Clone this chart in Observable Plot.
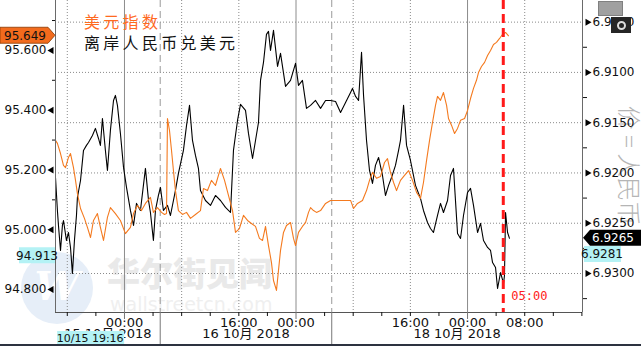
<!DOCTYPE html>
<html><head><meta charset="utf-8">
<script src="https://cdn.jsdelivr.net/npm/d3@7"></script>
<script src="https://cdn.jsdelivr.net/npm/@observablehq/plot@0.6"></script>
<style>
body{margin:0;background:#fff;}
#wrap{position:relative;width:641px;height:346px;overflow:hidden;font-family:"DejaVu Sans","Noto Sans CJK SC",sans-serif;}
.abs{position:absolute;}
#chart{position:absolute;left:0;top:0;z-index:2;}
.fg{z-index:3;}
</style></head><body>
<div id="wrap">
  <div class="abs" style="left:21px;top:252px;width:72px;height:72px;border-radius:50%;background:#e6eef8;z-index:0"></div>
  <div class="abs" style="left:21px;top:262px;width:72px;text-align:center;font:bold italic 40px 'DejaVu Serif';color:#fff;z-index:0">W</div>
  <div class="abs" style="left:107px;top:250px;font:900 33px 'Noto Sans CJK SC';line-height:44px;color:#e9e9e9;z-index:0;white-space:nowrap">华尔街见闻</div>
  <div class="abs" style="left:110px;top:294px;font:19px 'DejaVu Sans';line-height:20px;color:#efefef;z-index:0;white-space:nowrap">wallstreetcn.com</div>
  <div class="abs" style="left:562px;top:148px;width:136px;text-align:center;transform:rotate(90deg);font:300 24px 'Noto Sans CJK SC';color:#b5b5b5;z-index:0;white-space:nowrap">价 = 人民币</div>
  <div id="chart"></div>
  <div class="abs fg" style="left:84px;top:11px;font:16px 'Noto Sans CJK SC';letter-spacing:3.3px;color:#ff6a1f;line-height:20px;white-space:nowrap">美元指数</div>
  <div class="abs fg" style="left:84px;top:32px;font:16px 'Noto Sans CJK SC';letter-spacing:3.3px;color:#111;line-height:20px;white-space:nowrap">离岸人民币兑美元</div>
  <div class="abs fg" style="left:598px;top:1px;width:23px;height:13px;background:#a0a0a0;border:1px solid #808080"></div>
  <div class="abs fg" style="left:611px;top:17px;width:20px;height:16px;background:#262626"></div>
  <div class="abs fg" style="left:617px;top:21px;width:5px;height:5px;border:2px solid #ddd;border-radius:50%"></div>
  <div class="abs fg" style="left:0;top:344px;width:641px;height:2px;background:#2d3340"></div>
</div>
<script>
// US dollar index (left axis)
const usdTime = ["15 14:21","15 14:37","15 15:03","15 15:28","15 15:45","15 16:10","15 16:27","15 16:52","15 17:09","15 17:25","15 17:51","15 18:24","15 18:49","15 19:15","15 19:40","15 20:13","15 20:38","15 21:04","15 21:37","15 22:02","15 22:44","15 23:26","16 00:08","16 00:50","16 01:16","16 01:49","16 02:23","16 02:56","16 03:38","16 04:03","16 04:37","16 05:11","16 05:36","16 05:53","16 06:01","16 06:18","16 06:35","16 06:51","16 07:08","16 07:33","16 08:07","16 08:41","16 09:14","16 09:56","16 10:38","16 11:03","16 11:37","16 12:10","16 12:44","16 13:26","16 14:00","16 14:33","16 15:07","16 15:32","16 16:05","16 16:39","16 17:13","16 17:46","16 18:20","16 18:53","16 19:19","16 19:44","16 20:09","16 20:34","16 20:51","16 21:16","16 21:33","16 21:50","16 22:15","16 22:40","16 23:14","16 23:39","16 23:56","17 00:21","17 00:54","17 01:20","17 01:45","17 02:02","17 02:27","17 02:52","17 03:26","17 04:08","17 04:50","17 06:14","17 07:38","17 08:03","17 08:36","17 09:18","17 09:52","17 10:17","17 10:42","17 11:16","17 11:49","17 12:23","17 12:48","17 13:13","17 13:39","17 14:04","17 14:37","17 15:11","17 15:45","17 16:18","17 16:52","17 17:25","17 17:50","17 18:16","17 18:41","17 19:06","17 19:31","17 19:48","17 20:13","17 20:38","17 21:04","17 21:20","17 21:46","17 22:11","17 22:36","17 23:01","17 23:35","18 00:00","18 00:25","18 00:50","18 01:15","18 01:32","18 01:57","18 02:23","18 02:48","18 03:13","18 03:38","18 04:03","18 04:29","18 04:54","18 05:19","18 05:44"];
const usdValue = [95.299,95.289,95.255,95.215,95.208,95.242,95.255,95.208,95.165,95.121,95.071,95.038,95.008,94.974,95.031,95.054,95.008,94.964,95.041,95.074,95.054,95.031,94.987,95.008,95.054,95.081,95.064,95.088,95.108,95.058,95.074,95.058,95.051,95.054,95.372,95.332,95.265,95.198,95.131,95.064,95.051,95.058,95.038,95.051,95.064,95.138,95.131,95.165,95.148,95.205,95.165,95.115,95.064,94.991,95.004,95.048,95.031,95.021,95.011,94.971,94.964,95.011,94.947,94.890,94.830,94.797,94.864,94.931,94.991,95.014,95.024,94.971,94.947,94.991,95.011,95.024,95.058,95.074,95.064,95.058,95.064,95.088,95.098,95.098,95.098,95.071,95.088,95.098,95.131,95.165,95.192,95.172,95.178,95.225,95.238,95.192,95.158,95.131,95.165,95.182,95.198,95.165,95.125,95.105,95.158,95.232,95.299,95.359,95.416,95.446,95.433,95.459,95.416,95.372,95.349,95.322,95.339,95.366,95.372,95.399,95.439,95.473,95.500,95.526,95.546,95.560,95.583,95.600,95.620,95.627,95.640,95.654,95.660,95.649];
// Offshore yuan per dollar (right axis, inverted)
const cnhTime = ["15 14:21","15 14:37","15 14:46","15 15:03","15 15:19","15 15:28","15 15:53","15 16:10","15 16:27","15 16:43","15 17:00","15 17:17","15 17:25","15 17:51","15 18:16","15 18:41","15 18:58","15 19:31","15 19:56","15 20:22","15 20:38","15 20:55","15 21:20","15 21:37","15 22:02","15 22:28","15 22:44","15 23:01","15 23:26","15 23:52","16 00:17","16 00:50","16 01:16","16 01:41","16 02:14","16 02:56","16 03:22","16 03:38","16 04:03","16 04:20","16 04:45","16 05:02","16 05:27","16 06:01","16 06:26","16 07:08","16 07:33","16 08:15","16 08:41","16 09:06","16 09:31","16 09:56","16 10:21","16 10:38","16 11:20","16 12:02","16 12:44","16 13:26","16 14:08","16 14:50","16 15:15","16 15:49","16 16:14","16 16:56","16 17:21","16 17:55","16 18:20","16 18:45","16 19:02","16 19:27","16 19:52","16 20:09","16 20:26","16 20:51","16 21:25","16 21:50","16 22:32","16 23:14","16 23:56","17 00:21","17 00:54","17 01:28","17 02:02","17 02:44","17 03:26","17 04:08","17 04:50","17 05:32","17 06:14","17 06:56","17 07:38","17 07:54","17 08:20","17 08:45","17 09:10","17 09:27","17 09:52","17 10:17","17 10:42","17 11:07","17 11:33","17 12:06","17 12:31","17 12:57","17 13:22","17 13:55","17 14:21","17 14:37","17 15:03","17 15:28","17 16:01","17 16:43","17 17:25","17 17:50","17 18:24","17 18:49","17 19:14","17 19:48","17 20:13","17 20:38","17 21:12","17 21:37","17 22:02","17 22:36","17 23:01","17 23:26","18 00:00","18 00:25","18 00:50","18 01:24","18 01:49","18 02:14","18 02:48","18 03:13","18 03:30","18 03:55","18 04:12","18 04:37","18 05:02","18 05:10","18 05:19","18 05:36","18 05:52"];
const cnhValue = [6.92045,6.92373,6.92522,6.92771,6.92522,6.92473,6.92672,6.92592,6.92741,6.93000,6.92672,6.92423,6.92244,6.92075,6.91776,6.91726,6.91697,6.91627,6.91557,6.91657,6.91726,6.91458,6.91776,6.91975,6.91577,6.91279,6.91229,6.91328,6.91607,6.91945,6.92144,6.92373,6.92522,6.92303,6.92373,6.91955,6.92274,6.92393,6.92672,6.92373,6.92224,6.92144,6.92373,6.92323,6.92423,6.92174,6.92005,6.91776,6.91527,6.91328,6.91677,6.91826,6.91955,6.92174,6.92274,6.92323,6.92224,6.92274,6.92343,6.92393,6.91776,6.91478,6.91318,6.91378,6.91607,6.91856,6.91677,6.91498,6.91080,6.90901,6.90622,6.90592,6.90781,6.90582,6.90940,6.90811,6.91139,6.91080,6.90910,6.91129,6.91080,6.91358,6.91328,6.91279,6.91358,6.91279,6.91279,6.91289,6.91398,6.91299,6.91199,6.91159,6.91239,6.91279,6.90801,6.91229,6.91677,6.91975,6.92104,6.91925,6.91846,6.92025,6.92224,6.92124,6.92045,6.91925,6.91776,6.91677,6.91328,6.91726,6.91876,6.92124,6.92254,6.92373,6.92493,6.92552,6.92592,6.92423,6.92303,6.92393,6.92274,6.92025,6.91955,6.92602,6.92652,6.92423,6.92194,6.92154,6.92323,6.92592,6.92502,6.92672,6.92741,6.92771,6.92891,6.92940,6.93149,6.92990,6.93099,6.93020,6.92393,6.92592,6.92650];

const leftTicks = [94.8, 95.0, 95.2, 95.4, 95.6];
const leftMinor = [94.9, 95.1, 95.3, 95.5, 95.7];
const cnhTicks = [6.905, 6.910, 6.915, 6.920, 6.925, 6.930];
const cnhMinor = [6.9075, 6.9125, 6.9175, 6.9225, 6.9275, 6.9325];
const timeLabelTicks = ["16 00:00","16 16:00","17 00:00","17 16:00","18 00:00","18 08:00"];
const fourHourTicks = ["15 16:00","15 20:00","16 04:00","16 08:00","16 12:00","16 16:00","16 20:00","17 04:00","17 08:00","17 12:00","17 16:00","17 20:00","18 04:00","18 08:00","18 12:00","18 16:00"];
const midnights = ["16 00:00","17 00:00","18 00:00"];
const eightHourGrid = ["15 16:00","16 08:00","16 16:00","17 08:00","17 16:00","18 08:00"];
const sessionBreaks = ["16 05:00","17 05:00"];
const dateLabels = ["15 10月 2018","16 10月 2018","18 10月 2018"];
const eventTime = "18 05:00";
const eventLabel = "05:00";
const viewStart = "15 14:21", viewEnd = "18 16:05";
const lastUsd = 95.649, lastCnh = 6.9265;
const crossUsd = 94.913, crossCnh = 6.9281, crossTime = "15 19:16", crossTimeLabel = "10/15 19:16";

const P = s => new Date(`2018-10-${s.slice(0,2)}T${s.slice(3)}:00Z`);
const yDomain = [94.723, 95.767];
// right axis (inverted) mapped onto the left scale
const cnhToUsd = d3.scaleLinear([6.91, 6.93], [95.5264, 94.8535]);
const usd = usdTime.map((t, i) => ({t: P(t), v: usdValue[i]}));
const cnh = cnhTime.map((t, i) => ({t: P(t), v: cnhToUsd(cnhValue[i])}));
const xDomain = [P(viewStart), P(viewEnd)];
const bounds = [xDomain[0], ...sessionBreaks.map(P), xDomain[1]];
const mids = dateLabels.map((d, i) => new Date((+bounds[i] + +bounds[i + 1]) / 2));
const blank = () => "";
const dotted = {stroke: "#8a8a8a", strokeDasharray: "1,2"};

const plot = Plot.plot({
  width: 641, height: 346,
  marginLeft: 55, marginRight: 59, marginTop: 0, marginBottom: 34,
  style: {background: "transparent", fontFamily: "DejaVu Sans, Noto Sans CJK SC, sans-serif", fontSize: "12px", color: "#111", overflow: "visible"},
  x: {type: "utc", domain: xDomain, axis: null, label: null},
  y: {domain: yDomain, axis: null, label: null},
  marks: [
    Plot.ruleY(cnhTicks.map(cnhToUsd), dotted),
    Plot.ruleX(eightHourGrid.map(P), dotted),
    Plot.ruleX(midnights.map(P), {stroke: "#8c8c8c"}),
    Plot.ruleX(sessionBreaks.map(P), {stroke: "#9a9a9a", strokeDasharray: "7,4"}),
    Plot.line(cnh, {x: "t", y: "v", stroke: "#000", strokeWidth: 1.1}),
    Plot.line(usd, {x: "t", y: "v", stroke: "#f47a1f", strokeWidth: 1.1}),
    Plot.ruleX([P(eventTime)], {stroke: "#ff1a1a", strokeWidth: 3, strokeDasharray: "9,5"}),
    Plot.text([eventLabel], {x: () => P(eventTime), frameAnchor: "bottom", dx: 8, dy: -13, textAnchor: "start", fill: "#ff2020", fontFamily: "DejaVu Sans Mono", fontSize: 12}),
    Plot.ruleX([xDomain[0]], {stroke: "#6a6a6a"}),
    Plot.ruleX([xDomain[1]], {stroke: "#6a6a6a"}),
    Plot.ruleY([yDomain[0]], {stroke: "#555"}),
    // left axis
    Plot.axisY(leftTicks, {anchor: "left", tickSize: 0, tickPadding: 9, tickFormat: d3.format(".3f"), fontSize: 12, label: null}),
    Plot.axisY(leftMinor, {anchor: "left", tickSize: 3, tickFormat: blank, label: null}),
    Plot.dot(leftTicks, {y: d => d, frameAnchor: "left", dx: -4, symbol: "triangle", rotate: -90, r: 2.6, fill: "#000", stroke: null}),
    // right axis
    Plot.axisY(cnhTicks.map(cnhToUsd), {anchor: "right", tickSize: 0, tickPadding: 10, tickFormat: d => d3.format(".4f")(cnhToUsd.invert(d)), fontSize: 12, label: null}),
    Plot.axisY(cnhMinor.map(cnhToUsd), {anchor: "right", tickSize: 4, tickFormat: blank, label: null}),
    Plot.dot(cnhTicks.map(cnhToUsd), {y: d => d, frameAnchor: "right", dx: 5, symbol: "triangle", rotate: 90, r: 2.6, fill: "#000", stroke: null}),
    // bottom axis
    Plot.axisX(fourHourTicks.map(P), {tickSize: 4, tickFormat: blank, label: null}),
    Plot.axisX(midnights.map(P), {tickSize: 7, tickFormat: blank, label: null, stroke: "#777"}),
    Plot.axisX(sessionBreaks.map(P), {tickSize: 34, tickFormat: blank, label: null, stroke: "#777"}),
    Plot.axisX(timeLabelTicks.map(P), {tickSize: 0, tickPadding: 5, tickFormat: d3.utcFormat("%H:%M"), fontSize: 13, label: null}),
    Plot.text(dateLabels, {x: (d, i) => mids[i], frameAnchor: "bottom", dy: 25, fontSize: 13, textAnchor: "middle"})
  ]
});
document.getElementById("chart").appendChild(plot);

// value flags positioned through Plot's own scales
const sy = plot.scale("y"), sx = plot.scale("x");
const Y = sy.apply ? v => sy.apply(v) : d3.scaleLinear(sy.domain, sy.range);
const X = sx.apply ? v => sx.apply(v) : d3.scaleUtc(sx.domain, sx.range);
const svg = d3.select(plot);
const g = svg.append("g").attr("font-size", 12).attr("font-family", "DejaVu Sans");
function flag(path, fill, stroke, text, tx, ty, tcol, anchor, fs) {
  g.append("path").attr("d", path).attr("fill", fill).attr("stroke", stroke).attr("stroke-width", 0.8);
  g.append("text").attr("x", tx).attr("y", ty).attr("dy", "0.36em").attr("fill", tcol)
    .attr("text-anchor", anchor).attr("font-size", fs || 12).text(text);
}
let y = Y(lastUsd);
flag(`M0,${y-8}H48L55,${y}L48,${y+8}H0Z`, "#f26b1d", "#8a3a00", d3.format(".3f")(lastUsd), 25, y, "#111", "middle");
y = Y(crossUsd);
flag(`M19,${y-8}H55V${y+8}H19Z`, "#b4f2f5", "none", d3.format(".3f")(crossUsd), 37, y, "#111", "middle");
y = Y(cnhToUsd(lastCnh));
flag(`M583,${y}L590,${y-8}H641V${y+8}H590Z`, "#000", "none", d3.format(".4f")(lastCnh), 592, y, "#fff", "start");
y = Y(cnhToUsd(crossCnh));
flag(`M584,${y-8}H621V${y+8}H584Z`, "#b4f2f5", "none", d3.format(".4f")(crossCnh), 602, y, "#111", "middle");
const cx = X(P(crossTime));
flag(`M${cx-33},331H${cx+34}V346H${cx-33}Z`, "#b4f2f5", "none", crossTimeLabel, cx, 338.5, "#111", "middle", 11);
</script>
</body></html>
